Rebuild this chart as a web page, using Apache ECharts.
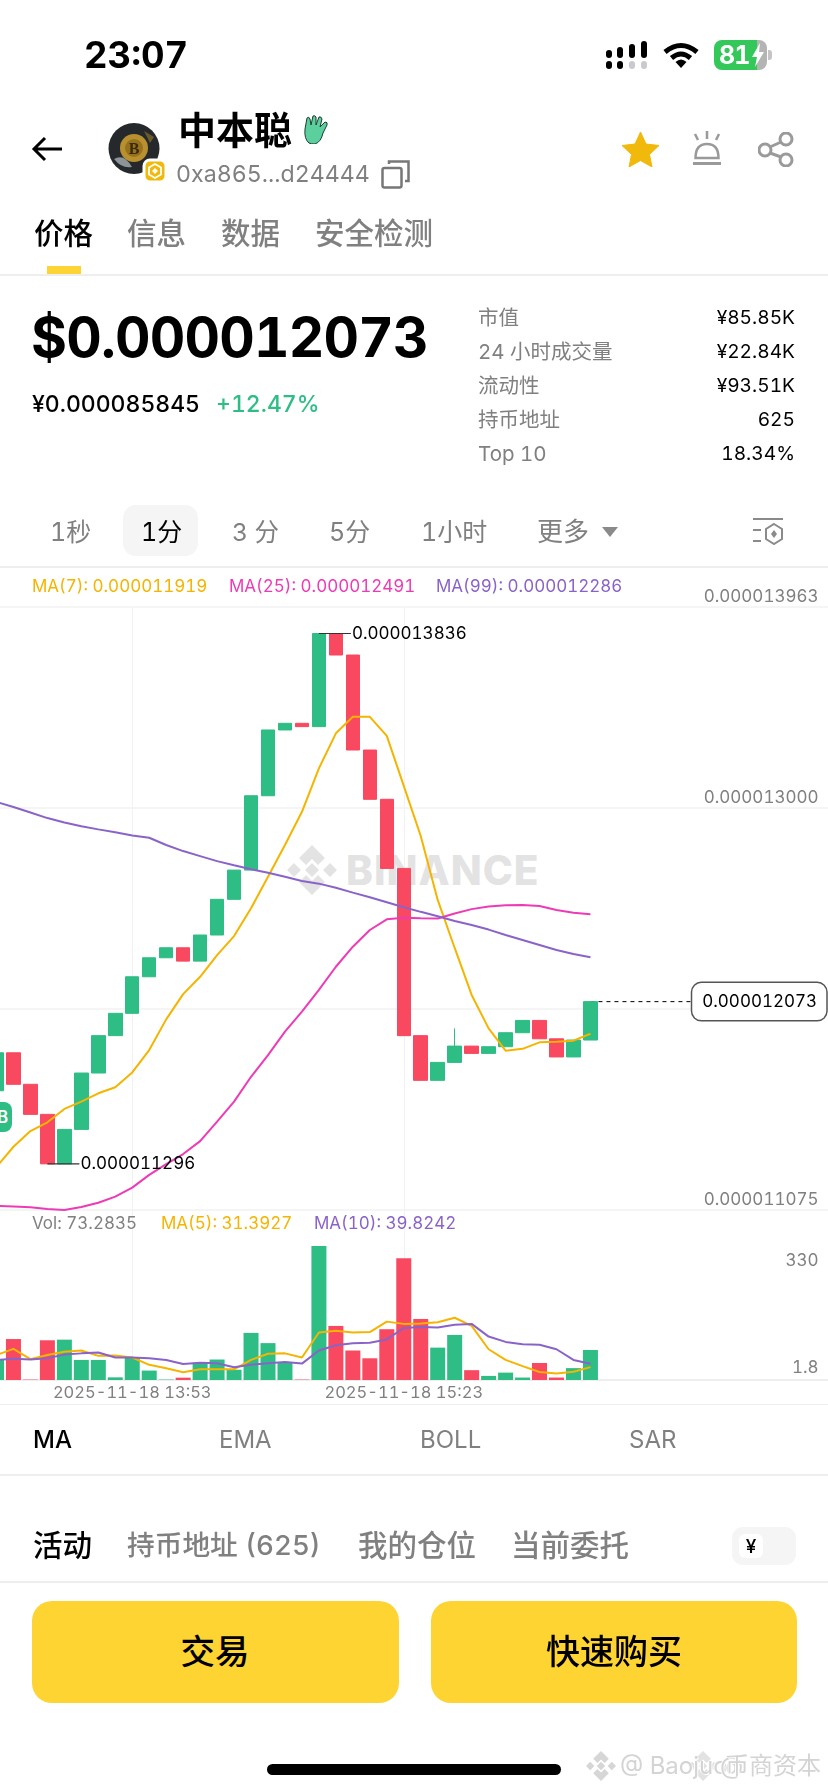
<!DOCTYPE html>
<html>
<head>
<meta charset="utf-8">
<script src="https://cdn.jsdelivr.net/npm/echarts@6/dist/echarts.min.js"></script>
<style>
  html, body { margin: 0; padding: 0; background: #fff; }
  body { width: 828px; height: 1792px; position: relative; overflow: hidden;
         font-family: Inter, "Noto Sans CJK SC", sans-serif; color: #000; font-feature-settings: "tnum"; }
  #main { position: absolute; left: 0; top: 0; width: 828px; height: 1792px; z-index: 2; }
  .t { position: absolute; white-space: nowrap; line-height: 1; transform: translateY(-50%); z-index: 3; }
  .r { transform: translate(-100%, -50%); }
  .c { transform: translate(-50%, -50%); }
  .g { color: #808080; }
  .hr { position: absolute; left: 0; width: 828px; height: 2px; background: #eeeeee; z-index: 1; }
  svg { position: absolute; z-index: 3; }
  .btn { position: absolute; top: 1601px; height: 102px; border-radius: 20px; background: #fdd432; z-index: 3; }
  .wm { color: #d4d4d4; text-shadow: 1px 1px 0 #fff, -1px 0 0 #fff; }
</style>
</head>
<body>
<!-- status bar -->
<div class="t" style="left:84px;top:55px;font-size:36.500px;font-weight:700">23:07</div>
<svg style="left:606px;top:41px" width="42" height="28">
  <rect x="0" y="9" width="6" height="8" rx="3"/><rect x="11" y="6" width="6" height="11" rx="3"/><rect x="23" y="3" width="6" height="14" rx="3"/><rect x="35" y="0" width="6" height="17" rx="3"/>
  <rect x="0" y="20" width="6" height="8" rx="3"/><rect x="11" y="20" width="6" height="8" rx="3"/><rect x="23" y="20" width="6" height="8" rx="3" fill="#c9c9d0"/><rect x="35" y="20" width="6" height="8" rx="3" fill="#c9c9d0"/>
</svg>
<svg style="left:663px;top:42px" width="36" height="27" viewBox="0 0 36 27" fill="none" stroke="#000" stroke-width="5">
  <path d="M2 10 Q18 -3 34 10"/><path d="M8.500 16 Q18 8 27.500 16"/><path d="M18 26 L12.500 20 Q18 15 23.500 20 Z" fill="#000" stroke="none"/>
</svg>
<div style="position:absolute;left:714px;top:40px;width:53px;height:30px;border-radius:8px;background:linear-gradient(90deg,#34c759 0 81%,#b4b4b4 81%);z-index:3"></div>
<div style="position:absolute;left:768px;top:50px;width:4px;height:10px;border-radius:0 3px 3px 0;background:#c4c4c4;z-index:3"></div>
<div class="t" style="left:719px;top:55px;font-size:25px;font-weight:700;color:#fff;letter-spacing:-1px">81</div>
<svg style="left:751px;top:43px" width="14" height="24" viewBox="0 0 14 24"><path d="M9 0 L1 14 H6 L4 24 L13 9 H8 Z" fill="#fff"/></svg>

<!-- header -->
<svg style="left:31px;top:136px" width="31" height="26" viewBox="0 0 31 26" fill="none" stroke="#000" stroke-width="3"><path d="M14 2 L3 13 L14 24 M3 13 H31"/></svg>
<svg style="left:108px;top:123px" width="60" height="60" viewBox="0 0 60 60">
  <circle cx="26" cy="25.500" r="25.500" fill="#26292b"/><circle cx="26" cy="25" r="14" fill="#b8902f"/><circle cx="26" cy="25" r="9" fill="#96721f"/>
  <path d="M6 36 Q16 30 24 44 Q14 46 6 36 Z" fill="#8c9499"/><path d="M36 8 L46 14 L42 20 Z" fill="#6b5a2a"/>
  <text x="26" y="31" font-size="16" font-family="Liberation Serif" font-weight="700" fill="#3b2a08" text-anchor="middle">B</text>
  <rect x="36" y="37" width="22" height="22" rx="6" fill="#f0b90b" stroke="#fff" stroke-width="3"/>
  <path d="M47 41 L53 44.500 V51.500 L47 55 L41 51.500 V44.500 Z" fill="none" stroke="#fff" stroke-width="1.800"/><path d="M47 45 L50 48 L47 51 L44 48 Z" fill="#fff"/>
</svg>
<div class="t" style="left:178px;top:130px;font-size:38px;font-weight:700">中本聪</div>
<svg style="left:304px;top:115px" width="26" height="29" viewBox="0 0 26 29"><path d="M5 28 Q0 24 1 14 L3 3 Q5 1 6 4 L7 10 L9 1 Q11 0 12 2 L12 10 L15 2 Q17 1 18 4 L16 12 L21 7 Q24 7 23 10 L19 18 Q17 27 11 29 Q7 29 5 28 Z" fill="#5ccf9f" stroke="#1c3d2e" stroke-width="1"/></svg>
<div class="t g" style="left:176px;top:175px;font-size:23.200px">0xa865...d24444</div>
<svg style="left:381px;top:160px" width="29" height="29" viewBox="0 0 29 29" fill="none" stroke="#777" stroke-width="2.500"><rect x="1.500" y="8" width="19" height="19.500" rx="2"/><path d="M8 4 V1.500 H27.500 V21 H24"/></svg>
<svg style="left:622px;top:132px" width="37" height="35" viewBox="0 0 37 35"><path d="M18.500 0 L24 12 L37 13.500 L27.500 22.500 L30 35 L18.500 28.500 L7 35 L9.500 22.500 L0 13.500 L13 12 Z" fill="#f0b90b" stroke="#f0b90b" stroke-linejoin="round"/></svg>
<svg style="left:692px;top:131px" width="30" height="34" viewBox="0 0 30 34" fill="none" stroke="#9a9a9a" stroke-width="2.500"><path d="M15 0 V8 M3 3 L6 9 M27 3 L24 9 M3.500 27 Q3.500 13 15 13 Q26.500 13 26.500 27 Z"/><path d="M1 32.500 H29" stroke-width="3"/></svg>
<svg style="left:758px;top:132px" width="36" height="35" viewBox="0 0 36 35" fill="none" stroke="#9a9a9a" stroke-width="3"><circle cx="28" cy="7" r="6"/><circle cx="7" cy="18" r="6"/><circle cx="28" cy="28" r="6"/><path d="M12 15 L23 10 M12 21 L23 25"/></svg>

<!-- tabs -->
<div class="t" style="left:34px;top:234px;font-size:29.500px;font-weight:500">价格</div>
<div class="t g" style="left:127px;top:234px;font-size:29.500px;font-weight:500">信息</div>
<div class="t g" style="left:221px;top:234px;font-size:29.500px;font-weight:500">数据</div>
<div class="t g" style="left:315px;top:234px;font-size:29.500px;font-weight:500">安全检测</div>
<div style="position:absolute;left:47px;top:266px;width:34px;height:8px;background:#fcd535;z-index:3"></div>
<div class="hr" style="top:274px"></div>

<!-- price block -->
<div class="t" style="left:31px;top:337px;font-size:55px;font-weight:700;letter-spacing:-0.800px">$0.000012073</div>
<div class="t" style="left:32px;top:404px;font-size:23px;font-weight:500">¥0.000085845</div>
<div class="t" style="left:216px;top:404px;font-size:23px;font-weight:500;color:#2ebd85">+12.47%</div>
<div id="stats"></div>

<!-- timeframes -->
<div style="position:absolute;left:123px;top:505px;width:75px;height:51px;border-radius:13px;background:#f5f5f5;z-index:1"></div>
<div class="t g" style="left:50px;top:532px;font-size:25px">1秒</div>
<div class="t" style="left:141px;top:532px;font-size:25px">1分</div>
<div class="t g" style="left:232px;top:532px;font-size:24.500px">3 分</div>
<div class="t g" style="left:329px;top:532px;font-size:25px">5分</div>
<div class="t g" style="left:421px;top:532px;font-size:25px">1小时</div>
<div class="t g" style="left:537px;top:532px;font-size:26px">更多</div>
<svg style="left:602px;top:527px" width="16" height="10"><path d="M0 0 H16 L8 10 Z" fill="#8a8a8a"/></svg>
<svg style="left:753px;top:517px" width="31" height="28" viewBox="0 0 31 28" fill="none" stroke="#8a8a8a" stroke-width="2"><path d="M0 2 H30 M0 13 H8 M0 24 H8"/><path d="M21 7 L29 12 V22 L21 27 L13 22 V12 Z"/><path d="M21 13 L24 17 L21 21 L18 17 Z" fill="#8a8a8a" stroke="none"/></svg>
<div class="hr" style="top:566px"></div>

<!-- watermark under the chart canvas -->
<svg style="left:287px;top:845px;z-index:1" width="50" height="50" viewBox="0 0 50 50" fill="#e3e3e3"><path d="M25 0 L38 13 L31 20 L25 14 L19 20 L12 13 Z M25 50 L38 37 L31 30 L25 36 L19 30 L12 37 Z M0 25 L7 18 L14 25 L7 32 Z M36 25 L43 18 L50 25 L43 32 Z M25 18 L32 25 L25 32 L18 25 Z"/></svg>
<div class="t" style="left:346px;top:871px;font-size:40.500px;font-weight:800;color:#e3e3e3;z-index:1;letter-spacing:1px">BINANCE</div>

<!-- legends -->
<div id="legends"></div>
<div style="position:absolute;left:-14px;top:1102px;width:26px;height:30px;border-radius:8px;background:#2ebd85;z-index:3"></div>
<div class="t" style="left:-3px;top:1117px;font-size:17px;color:#fff;font-weight:600;z-index:3">B</div>

<!-- indicators -->
<div class="hr" style="top:1404px;height:1px"></div>
<div class="t" style="left:33px;top:1440px;font-size:24px;font-weight:500">MA</div>
<div class="t g" style="left:219px;top:1440px;font-size:24px">EMA</div>
<div class="t g" style="left:420px;top:1440px;font-size:24px">BOLL</div>
<div class="t g" style="left:629px;top:1440px;font-size:24px">SAR</div>
<div class="hr" style="top:1474px"></div>

<div class="t" style="left:33px;top:1546px;font-size:29.500px;font-weight:500">活动</div>
<div class="t g" style="left:127px;top:1546px;font-size:27.700px;font-weight:500">持币地址 (625)</div>
<div class="t g" style="left:358px;top:1546px;font-size:29.500px;font-weight:500">我的仓位</div>
<div class="t g" style="left:511px;top:1546px;font-size:29.500px;font-weight:500">当前委托</div>
<div style="position:absolute;left:732px;top:1527px;width:64px;height:38px;border-radius:11px;background:#f5f5f5;z-index:3"></div>
<div style="position:absolute;left:739px;top:1534px;width:24px;height:24px;border-radius:6px;background:#fff;z-index:3"></div>
<div class="t c" style="left:751px;top:1546px;font-size:19px;font-weight:500">¥</div>
<div class="hr" style="top:1581px"></div>

<div class="btn" style="left:32px;width:367px"></div>
<div class="btn" style="left:431px;width:366px"></div>
<div class="t c" style="left:215px;top:1652px;font-size:34.500px;font-weight:500">交易</div>
<div class="t c" style="left:614px;top:1652px;font-size:34px;font-weight:500">快速购买</div>

<div style="position:absolute;left:267px;top:1764px;width:294px;height:11px;border-radius:6px;background:#000;z-index:3"></div>
<svg style="left:586px;top:1751px" width="30" height="30" viewBox="0 0 50 50" fill="#d6d6d6"><path d="M25 0 L38 13 L31 20 L25 14 L19 20 L12 13 Z M25 50 L38 37 L31 30 L25 36 L19 30 L12 37 Z M0 25 L7 18 L14 25 L7 32 Z M36 25 L43 18 L50 25 L43 32 Z M25 18 L32 25 L25 32 L18 25 Z"/></svg>
<svg style="left:688px;top:1751px" width="30" height="30" viewBox="0 0 50 50" fill="#e2e2e2"><path d="M25 0 L38 13 L31 20 L25 14 L19 20 L12 13 Z M25 50 L38 37 L31 30 L25 36 L19 30 L12 37 Z M0 25 L7 18 L14 25 L7 32 Z M36 25 L43 18 L50 25 L43 32 Z M25 18 L32 25 L25 32 L18 25 Z"/></svg>
<div class="t wm" style="left:620px;top:1766px;font-size:24px">@ Baojuo</div>
<div class="t wm" style="left:720px;top:1766px;font-size:24px">@</div>
<div class="t wm" style="left:725px;top:1766px;font-size:24px">币商资本</div>

<div id="main"></div>

<script>
// prices are in units of 1e-9, volume in token units
const opens = [11646,11828,11677,11533,11296,11461,11731,11910,12017,12192,12283,12331,12267,12392,12563,12703,13059,13374,13406,13390,13836,13733,13278,13042,12711,11910,11696,11782,11860,11825,11857,11924,11983,11895,11808,11889];
const closes = [11828,11677,11533,11296,11461,11731,11910,12017,12192,12283,12331,12267,12392,12563,12703,13059,13374,13406,13390,13836,13733,13278,13042,12711,11910,11696,11782,11860,11825,11857,11924,11983,11895,11808,11889,12073];
const highs = [11828,11828,11677,11533,11461,11731,11910,12017,12192,12283,12331,12331,12392,12563,12703,13059,13374,13406,13406,13836,13836,13733,13278,13042,12711,11910,11782,11945,11860,11857,11924,11983,11983,11895,11889,12073];
const lows = [11646,11677,11533,11296,11296,11461,11731,11910,12017,12192,12283,12267,12267,12392,12563,12703,13059,13374,13390,13390,13733,13278,13042,12711,11910,11696,11696,11782,11825,11825,11857,11924,11895,11808,11808,11889];
const ma7 = [11281,11378,11453,11495,11559,11594,11634,11663,11734,11841,11988,12109,12192,12296,12387,12520,12671,12823,12982,13190,13358,13437,13437,13346,13106,12866,12560,12330,12105,11945,11838,11847,11878,11881,11886,11919];
const ma25 = [11094,11092,11088,11080,11075,11089,11110,11139,11182,11243,11295,11343,11405,11498,11594,11713,11817,11929,12025,12129,12240,12336,12416,12467,12475,12472,12471,12495,12516,12529,12535,12536,12531,12512,12499,12491];
const ma99 = [13029,13005,12979,12952,12931,12913,12898,12884,12869,12858,12823,12794,12770,12746,12726,12707,12690,12671,12651,12638,12618,12595,12573,12549,12525,12503,12482,12459,12440,12418,12392,12368,12344,12320,12301,12286];
const volumes = [49,100,1,97,98.5,49,49,6.5,55,23,1,5.7,42,50,25,115,90,43,1,327,132,72,53,124,297,149,79,110,24,10,18,6,41.5,6,29,73.2835];
const volMa5 = [61,76,51,61,69,72,59,60,55,37,28.5,19,26,26,26,49,64,65,55,116,120,116,117,142.5,137,138,141,152,132,75,49,34,19.5,16,20,31.3927];
const volMa10 = [49,52,50,53,62,65,67,55,55,53,49,39,42,41,31,37.5,41,44,40,72,85,90,91,99,127,129.5,128,135,137,106,93,87,86,75,49,39.8242];
const priceTicks = [11075,12037,13000,13963];
const volTicks = [1.8,330];
const lastPrice = 12073;
const timeLabels = {8:'2025-11-18 13:53', 24:'2025-11-18 15:23'};
const statLabels = ['市值','24 小时成交量','流动性','持币地址','Top 10'];
const statValues = ['¥85.85K','¥22.84K','¥93.51K','625','18.34%'];

const UP = '#2ebd85', DOWN = '#f84960';
const YEL = '#f5b400', PINK = '#ee3bb5', PUR = '#8a63c8', GRID = '#f2f2f2';
const SLOTS = 50;
const FONT = 17;

var toPrice = (v) => (v / 1e9).toFixed(9);
var last = (a) => a[a.length - 1];
var categories = [];
for (var i = 0; i < SLOTS; i++) categories.push(timeLabels[i] || '');
var isLabelled = (i) => !!timeLabels[i];

// text blocks fed from the arrays
var html = '';
statLabels.forEach((s, i) => {
  var y = [318, 352, 386, 420, 454][i];
  html += '<div class="t g" style="left:478px;top:' + y + 'px;font-size:20.5px">' + s + '</div>';
  html += '<div class="t r" style="left:795px;top:' + y + 'px;font-size:19.2px">' + statValues[i] + '</div>';
});
document.getElementById('stats').innerHTML = html;

var legendRows = [
  [32, 586, YEL, 'MA(7): ' + toPrice(last(ma7))],
  [229, 586, PINK, 'MA(25): ' + toPrice(last(ma25))],
  [436, 586, PUR, 'MA(99): ' + toPrice(last(ma99))],
  [32, 1223, '#808080', 'Vol: ' + last(volumes)],
  [161, 1223, YEL, 'MA(5): ' + last(volMa5)],
  [314, 1223, PUR, 'MA(10): ' + last(volMa10)]
];
document.getElementById('legends').innerHTML = legendRows.map(r =>
  '<div class="t" style="left:' + r[0] + 'px;top:' + r[1] + 'px;font-size:17px;color:' + r[2] + '">' + r[3] + '</div>').join('');

var lineStyle = (color) => ({ color: color, width: 2 });
var xBase = {
  type: 'category', data: categories, boundaryGap: true,
  axisLine: { show: false }, axisTick: { show: false },
  axisLabel: { show: false },
  splitLine: { show: true, interval: isLabelled, alignWithLabel: true, lineStyle: { color: GRID, width: 1 } }
};

var chart = echarts.init(document.getElementById('main'), null, { renderer: 'canvas' });
var option = {
  animation: false,
  backgroundColor: 'transparent',
  grid: [
    { left: -12, width: 848.5, top: 607, height: 603, outerBoundsMode: 'none' },
    { left: -12, width: 848.5, top: 1210, height: 170, outerBoundsMode: 'none' }
  ],
  xAxis: [
    Object.assign({}, xBase, { gridIndex: 0 }),
    Object.assign({}, xBase, {
      gridIndex: 1,
      axisLine: { show: true, lineStyle: { color: '#eeeeee', width: 2 } },
      axisLabel: { show: true, interval: isLabelled, margin: 5, fontSize: 16.5, color: '#808080', fontFamily: 'Inter', hideOverlap: false, showMinLabel: true, showMaxLabel: true }
    })
  ],
  yAxis: [
    {
      gridIndex: 0, type: 'value', position: 'right', scale: true, min: 11075, max: 13963,
      axisLine: { show: false }, axisTick: { show: false, customValues: priceTicks },
      splitLine: { show: true, lineStyle: { color: GRID, width: 1.5 } },
      axisLabel: {
        inside: true, customValues: priceTicks, margin: 18, verticalAlign: 'bottom', lineHeight: 20,
        fontSize: FONT, color: '#808080', fontFamily: 'Inter', formatter: (v) => toPrice(v)
      }
    },
    {
      gridIndex: 1, type: 'value', position: 'right', min: 0, max: 415,
      axisLine: { show: false }, axisTick: { show: false, customValues: volTicks }, splitLine: { show: false },
      axisLabel: {
        inside: true, customValues: volTicks, margin: 18, fontSize: FONT, color: '#808080', fontFamily: 'Inter',
        formatter: (v) => v > 100 ? '{lo|' + v + '}' : '{hi|' + v + '}',
        rich: {
          lo: { padding: [32, 0, 0, 0], fontSize: FONT, color: '#808080', fontFamily: 'Inter' },
          hi: { padding: [0, 0, 22, 0], fontSize: FONT, color: '#808080', fontFamily: 'Inter' }
        }
      }
    }
  ],
  series: [
    {
      name: 'last', type: 'line', z: 1, silent: true, symbol: 'none', xAxisIndex: 0, yAxisIndex: 0,
      data: [[35, lastPrice], [41, lastPrice]],
      lineStyle: { color: '#000', width: 1, type: [4, 4] },
      markPoint: {
        silent: true, symbol: 'circle', symbolSize: 0, z: 9,
        data: [{ coord: [41, lastPrice] }],
        label: {
          show: true, position: 'right', distance: 0, formatter: () => toPrice(lastPrice),
          // measured width ignores the tabular digits, so the box width is set by hand
          width: 114, align: 'left',
          fontSize: FONT, color: '#000', fontFamily: 'Inter', backgroundColor: '#fff',
          borderColor: '#555', borderWidth: 1.5, borderRadius: 9, padding: [10, 10, 10, 10]
        }
      }
    },
    {
      name: 'K', type: 'candlestick', z: 2, xAxisIndex: 0, yAxisIndex: 0, barWidth: 14,
      data: opens.map((o, i) => [o, closes[i], lows[i], highs[i]]),
      itemStyle: { color: UP, color0: DOWN, borderColor: UP, borderColor0: DOWN, borderWidth: 1 },
      markPoint: {
        silent: true, symbol: 'rect', symbolSize: [32, 1.2], symbolOffset: [16, 0], itemStyle: { color: '#333' },
        label: { show: true, position: 'right', distance: 1, fontSize: FONT, color: '#000', fontFamily: 'Inter', formatter: (p) => toPrice(p.data.coord[1]) },
        data: [{ coord: [19, Math.max.apply(null, highs)] }, { coord: [3, Math.min.apply(null, lows)] }]
      }
    },
    { name: 'MA7', type: 'line', z: 3, symbol: 'none', data: ma7, lineStyle: lineStyle(YEL) },
    { name: 'MA25', type: 'line', z: 3, symbol: 'none', data: ma25, lineStyle: lineStyle(PINK) },
    { name: 'MA99', type: 'line', z: 3, symbol: 'none', data: ma99, lineStyle: lineStyle(PUR) },
    {
      name: 'Vol', type: 'bar', xAxisIndex: 1, yAxisIndex: 1, barWidth: 15, z: 2,
      data: volumes.map((v, i) => ({ value: v, itemStyle: { color: closes[i] >= opens[i] ? UP : DOWN } }))
    },
    { name: 'VolMA5', type: 'line', xAxisIndex: 1, yAxisIndex: 1, z: 3, symbol: 'none', data: volMa5, lineStyle: lineStyle(YEL) },
    { name: 'VolMA10', type: 'line', xAxisIndex: 1, yAxisIndex: 1, z: 3, symbol: 'none', data: volMa10, lineStyle: lineStyle(PUR) }
  ]
};
chart.setOption(option);
</script>
</body>
</html>
